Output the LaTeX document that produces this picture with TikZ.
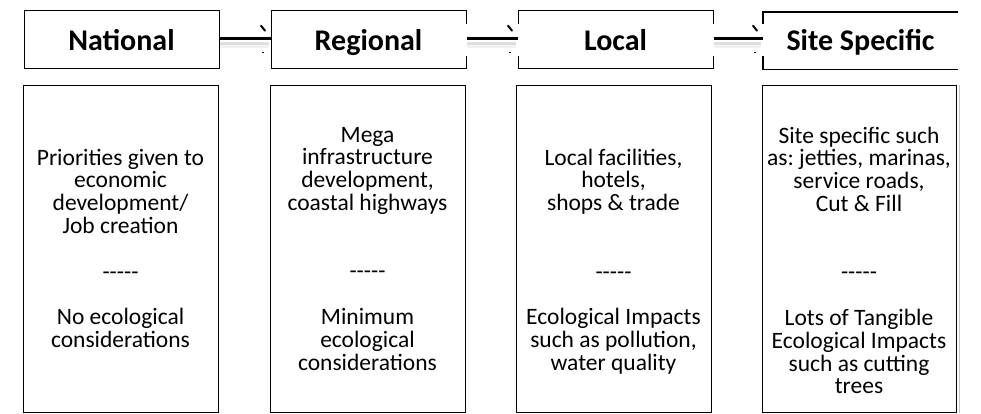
\documentclass[tikz,border=0pt]{standalone}
\usepackage{fontspec}
\setmainfont{Carlito}
\frenchspacing
\newcommand\stackl[1]{\vtop{\baselineskip=22.8pt\lineskiplimit=-50pt\lineskip=0pt\halign{\hfil##\hfil\cr#1\crcr}}}
\newcommand\fivedash{\mbox{-}\mbox{-}\mbox{-}\mbox{-}\mbox{-}}
\begin{document}
\begin{tikzpicture}[x=1pt,y=-1pt,
  hdr/.style={draw,line width=1.4pt,minimum width=195pt,minimum height=58pt,inner sep=0pt,anchor=north west},
  hdrbare/.style={minimum width=195pt,minimum height=57pt,inner sep=0pt,anchor=north west},
  bodybox/.style={draw,line width=1.4pt,minimum width=195pt,minimum height=327pt,inner sep=0pt,anchor=north west},
  ttl/.style={font=\fontsize{30}{36}\selectfont\bfseries,anchor=base,inner sep=0pt},
  txt/.style={font=\fontsize{23.5}{22.8}\selectfont\frenchspacing,anchor=base,inner sep=0pt},
  conn/.style={line width=3.4pt},
  shade1/.style={gray!25,line width=2.5pt},
  shade2/.style={gray!10,line width=3pt},
  tick/.style={line width=2pt,line cap=round},
  cover/.style={fill=white}]
\useasboundingbox (0,0) rectangle (981,413);
% header boxes
\node[hdr] (natt) at (24,10) {};
\node[hdr] (regt) at (271,10) {};
\node[hdr] (loct) at (518,10) {};
\node[hdrbare] (sitt) at (763,12) {};
\draw[line width=1.4pt] (sitt.north east) -- (sitt.north west) -- (sitt.south west) -- (sitt.south east);
% white arrow bodies covering borders
\fill[cover] ([shift={(-2,-16)}]regt.east) rectangle ([shift={(2,16)}]loct.west);
\fill[cover] ([shift={(-2,-16)}]loct.east) rectangle ([shift={(2,16)}]loct.east -| sitt.west);
% titles
\node[ttl] (natl) at (121.5,50) {National};
\node[ttl] (regl) at (368.5,50) {Regional};
\node[ttl] (locl) at (615.5,50) {Local};
\node[ttl] (sitl) at (860.5,50) {Site Specific};
% connectors
\foreach \a/\b in {natt/regt,regt/loct,loct/sitt}{
  \draw[shade2] ([shift={(0,6.5)}]\a.east) -- ([shift={(-2,6.5)}]\a.east -| \b.west);
  \draw[shade1] ([shift={(0,4)}]\a.east) -- ([shift={(-2,4)}]\a.east -| \b.west);
  \draw[conn] ([shift={(0,-1)}]\a.east) -- ([shift={(0,-1)}]\a.east -| \b.west);
  \draw[tick] ([shift={(-10,-14)}]\a.east -| \b.west) -- ([shift={(-6,-9)}]\a.east -| \b.west);
  \draw[line width=1.5pt] ([shift={(-9,13)}]\a.east -| \b.west) -- ([shift={(-7,13)}]\a.east -| \b.west);
}
% body boxes
\node[bodybox] (natb) at (23,85) {};
\node[bodybox] (regb) at (270,85) {};
\node[bodybox] (locb) at (516,85) {};
\node[bodybox,minimum width=194pt] (sitb) at (762,85) {};
\draw[gray!45,line width=1pt] ([xshift=2pt]sitb.north east) -- ([xshift=2pt]sitb.south east);
% body texts
\node[txt] (natx) at (120.5,165) {\stackl{Priorities given to\cr economic\cr development/\cr Job creation\cr \cr \fivedash\cr \cr No ecological\cr considerations}};
\node[txt] (regx) at (367.5,142) {\stackl{Mega\cr infrastructure\cr development,\cr coastal highways\cr \cr \cr \fivedash\cr \cr Minimum\cr ecological\cr considerations}};
\node[txt] (locx) at (613.5,165) {\stackl{Local facilities,\cr hotels,\cr shops \& trade\cr \cr \cr \fivedash\cr \cr Ecological Impacts\cr such as pollution,\cr water quality}};
\node[txt] (sitx) at (859,143) {\stackl{Site specific such\cr as: jetties, marinas,\cr service roads,\cr Cut \& Fill\cr \cr \cr \fivedash\cr \cr Lots of Tangible\cr Ecological Impacts\cr such as cutting\cr trees}};
\end{tikzpicture}
\end{document}
